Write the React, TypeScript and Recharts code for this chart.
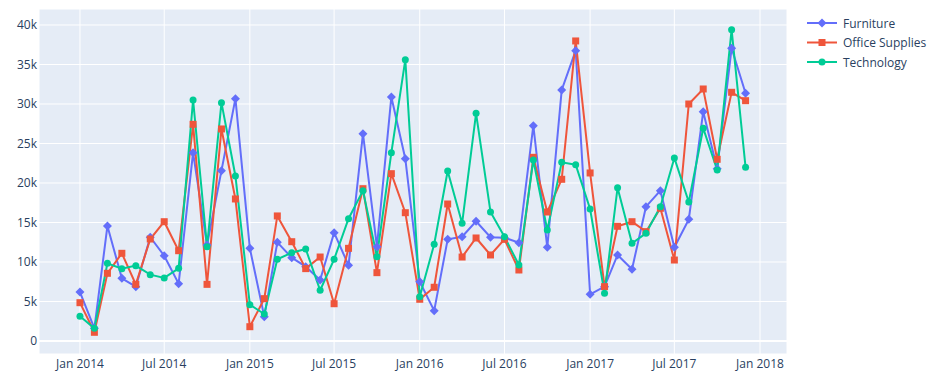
import React from 'react';
import { LineChart, Line, XAxis, YAxis, CartesianGrid, ReferenceLine } from 'recharts';

const months = [
  '2014-01', '2014-02', '2014-03', '2014-04', '2014-05', '2014-06', '2014-07', '2014-08', '2014-09', '2014-10', '2014-11', '2014-12',
  '2015-01', '2015-02', '2015-03', '2015-04', '2015-05', '2015-06', '2015-07', '2015-08', '2015-09', '2015-10', '2015-11', '2015-12',
  '2016-01', '2016-02', '2016-03', '2016-04', '2016-05', '2016-06', '2016-07', '2016-08', '2016-09', '2016-10', '2016-11', '2016-12',
  '2017-01', '2017-02', '2017-03', '2017-04', '2017-05', '2017-06', '2017-07', '2017-08', '2017-09', '2017-10', '2017-11', '2017-12',
];

const furniture = [
  6200, 1600, 14560, 7940, 6880, 13130, 10800, 7260, 23840, 12150, 21560, 30680,
  11730, 3080, 12490, 10550, 9410, 7720, 13710, 9580, 26240, 11940, 30890, 23080,
  7510, 3840, 12870, 13200, 15150, 13130, 13080, 12450, 27260, 11860, 31780, 36750,
  5910, 6880, 10890, 9080, 17000, 19030, 11860, 15400, 29030, 21810, 37050, 31360,
];

const officeSupplies = [
  4850, 1100, 8570, 11100, 7170, 12910, 15100, 11430, 27430, 7170, 26840, 17980,
  1810, 5360, 15830, 12570, 9160, 10630, 4720, 11730, 19280, 8650, 21180, 16240,
  5280, 6800, 17340, 10630, 13040, 10890, 12870, 8990, 23250, 16330, 20470, 37980,
  21270, 6880, 14520, 15100, 13840, 16800, 10250, 30000, 31900, 23000, 31480, 30420,
];

const technology = [
  3120, 1600, 9830, 9160, 9540, 8400, 7980, 9200, 30510, 11940, 30170, 20890,
  4600, 3420, 10340, 11180, 11650, 6420, 10340, 15480, 19030, 10670, 23840, 35610,
  5610, 12240, 21520, 14900, 28820, 16330, 13210, 9620, 22910, 14050, 22620, 22320,
  16710, 6040, 19410, 12370, 13630, 17000, 23170, 17600, 26930, 21650, 39410, 21990,
];

const xTicks = ['2014-01', '2014-07', '2015-01', '2015-07', '2016-01', '2016-07', '2017-01', '2017-07', '2018-01'];
const yTicks = [0, 5000, 10000, 15000, 20000, 25000, 30000, 35000, 40000];

const MONTH_NAMES = ['Jan', 'Feb', 'Mar', 'Apr', 'May', 'Jun', 'Jul', 'Aug', 'Sep', 'Oct', 'Nov', 'Dec'];
const DAY = 86400000;

const toTime = (m: string) => {
  const [y, mo] = m.split('-').map(Number);
  return Date.UTC(y, mo - 1, 1);
};

const data = months.map((m, i) => ({
  date: toTime(m),
  furniture: furniture[i],
  officeSupplies: officeSupplies[i],
  technology: technology[i],
}));

const FONT = '"Open Sans", sans-serif';
const TEXT = '#2a3f5f';

const BLUE = '#636efa';
const RED = '#ef553b';
const GREEN = '#00cc96';

const Diamond = (props: any) => {
  const { cx, cy } = props;
  if (cx == null || cy == null) return null;
  const r = 4.5;
  return <path d={`M${cx},${cy - r}L${cx + r},${cy}L${cx},${cy + r}L${cx - r},${cy}Z`} fill={BLUE} />;
};

const Square = (props: any) => {
  const { cx, cy } = props;
  if (cx == null || cy == null) return null;
  return <rect x={cx - 3.5} y={cy - 3.5} width={7} height={7} fill={RED} />;
};

const Dot = (props: any) => {
  const { cx, cy } = props;
  if (cx == null || cy == null) return null;
  return <circle cx={cx} cy={cy} r={3.5} fill={GREEN} />;
};

const legendItems = [
  { name: 'Furniture', color: BLUE, shape: 'diamond' },
  { name: 'Office Supplies', color: RED, shape: 'square' },
  { name: 'Technology', color: GREEN, shape: 'circle' },
];

const ChartLegend = () => (
  <svg width={140} height={70} style={{ position: 'absolute', left: 800, top: 10 }}>
    {legendItems.map((item, i) => {
      const y = 13 + i * 19.5;
      return (
        <g key={item.name}>
          <line x1={7} x2={37} y1={y} y2={y} stroke={item.color} strokeWidth={2} />
          {item.shape === 'diamond' && <path d={`M22,${y - 4.5}L26.5,${y}L22,${y + 4.5}L17.5,${y}Z`} fill={item.color} />}
          {item.shape === 'square' && <rect x={18.5} y={y - 3.5} width={7} height={7} fill={item.color} />}
          {item.shape === 'circle' && <circle cx={22} cy={y} r={3.5} fill={item.color} />}
          <text x={43} y={y + 4.5} fontFamily={FONT} fontSize={12} fill={TEXT}>{item.name}</text>
        </g>
      );
    })}
  </svg>
);

const fmtDate = (t: number) => {
  const d = new Date(t);
  return `${MONTH_NAMES[d.getUTCMonth()]} ${d.getUTCFullYear()}`;
};

const fmtY = (v: number) => (v === 0 ? '0' : `${v / 1000}k`);

const App: React.FC = () => {
  // axis ranges with plotly-like padding around the data
  const xStart = toTime('2014-01') - 88 * DAY;
  const xEnd = toTime('2018-01') + 58 * DAY;
  return (
    <div style={{ position: 'absolute', left: 0, top: 0, width: 937, height: 392, background: '#fff' }}>
      <LineChart
        width={937}
        height={392}
        data={data}
        margin={{ top: 9, right: 150, left: 0, bottom: 0 }}
      >
        <CartesianGrid fill="#e5ecf6" stroke="#ffffff" strokeWidth={1} />
        <XAxis
          dataKey="date"
          type="number"
          scale="time"
          domain={[xStart, xEnd]}
          ticks={xTicks.map(toTime)}
          tickFormatter={fmtDate}
          height={38}
          tickLine={false}
          axisLine={false}
          tickSize={0}
          tickMargin={5}
          tick={{ fill: TEXT, fontSize: 12, fontFamily: FONT }}
          allowDataOverflow
        />
        <YAxis
          type="number"
          domain={[-1646, 42025]}
          ticks={yTicks}
          tickFormatter={fmtY}
          width={39}
          tickLine={false}
          axisLine={false}
          tickSize={0}
          tickMargin={2}
          tick={{ fill: TEXT, fontSize: 12, fontFamily: FONT }}
          allowDataOverflow
        />
        <ReferenceLine y={0} stroke="#ffffff" strokeWidth={2} />
        <Line
          type="linear"
          dataKey="furniture"
          stroke={BLUE}
          strokeWidth={2}
          dot={<Diamond />}
          activeDot={false}
          isAnimationActive={false}
          name="Furniture"
        />
        <Line
          type="linear"
          dataKey="officeSupplies"
          stroke={RED}
          strokeWidth={2}
          dot={<Square />}
          activeDot={false}
          isAnimationActive={false}
          name="Office Supplies"
        />
        <Line
          type="linear"
          dataKey="technology"
          stroke={GREEN}
          strokeWidth={2}
          dot={<Dot />}
          activeDot={false}
          isAnimationActive={false}
          name="Technology"
        />
      </LineChart>
      <ChartLegend />
    </div>
  );
};

export default App;
